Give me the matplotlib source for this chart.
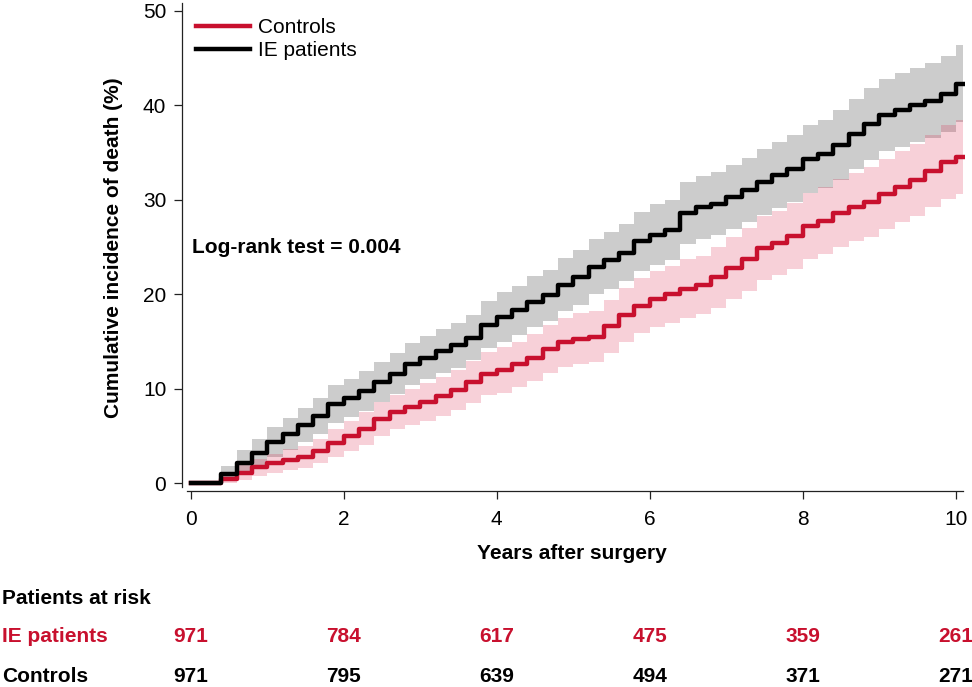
import matplotlib
matplotlib.use("Agg")
import matplotlib.pyplot as plt
import matplotlib.transforms as mtransforms
import numpy as np

plt.rcParams['font.family'] = ['Liberation Sans', 'DejaVu Sans']

# ---- data ----
times = [0.0, 0.2, 0.4, 0.6, 0.8, 1.0, 1.2, 1.4, 1.6, 1.8, 2.0, 2.2, 2.4, 2.6, 2.8,
         3.0, 3.2, 3.4, 3.6, 3.8, 4.0, 4.2, 4.4, 4.6, 4.8, 5.0, 5.2, 5.4, 5.6, 5.8,
         6.0, 6.2, 6.4, 6.6, 6.8, 7.0, 7.2, 7.4, 7.6, 7.8, 8.0, 8.2, 8.4, 8.6, 8.8,
         9.0, 9.2, 9.4, 9.6, 9.8, 10.0, 10.1]

ie_patients = [0, 0, 1.0, 2.2, 3.2, 4.4, 5.2, 6.2, 7.1, 8.4, 9.0, 9.8, 10.7, 11.6, 12.6,
               13.3, 14.0, 14.6, 15.4, 16.8, 17.6, 18.3, 19.2, 19.9, 21.0, 21.8, 22.9, 23.6, 24.4, 25.6,
               26.3, 26.8, 28.6, 29.2, 29.6, 30.3, 31.0, 31.9, 32.6, 33.3, 34.3, 34.8, 35.8, 37.0, 38.0,
               39.0, 39.5, 40.0, 40.5, 41.2, 42.3, 42.3]
ie_halfwidth = [0, 0, 0.8, 1.3, 1.5, 1.6, 1.7, 1.8, 1.9, 2.0, 2.0, 2.1, 2.1, 2.2, 2.2,
                2.3, 2.3, 2.4, 2.4, 2.5, 2.6, 2.6, 2.7, 2.7, 2.8, 2.9, 2.9, 3.0, 3.0, 3.1,
                3.2, 3.2, 3.3, 3.3, 3.3, 3.4, 3.4, 3.5, 3.5, 3.5, 3.6, 3.6, 3.7, 3.7, 3.8,
                3.8, 3.9, 3.9, 4.0, 4.0, 4.1, 4.1]

controls = [0, 0, 0.5, 1.1, 1.7, 2.1, 2.5, 2.8, 3.4, 4.3, 5.0, 5.8, 6.8, 7.5, 8.1,
            8.6, 9.2, 9.9, 10.7, 11.6, 12.0, 12.6, 13.3, 14.2, 14.9, 15.3, 15.5, 16.6, 17.8, 18.8,
            19.5, 20.0, 20.6, 21.0, 21.8, 22.8, 23.7, 24.9, 25.4, 26.2, 27.2, 27.8, 28.6, 29.2, 29.8,
            30.6, 31.4, 32.1, 33.0, 34.0, 34.5, 34.5]
ctrl_halfwidth = [0, 0, 0.5, 0.8, 0.9, 1.0, 1.1, 1.2, 1.3, 1.5, 1.6, 1.7, 1.8, 1.8, 1.9,
                  2.0, 2.1, 2.1, 2.2, 2.3, 2.4, 2.4, 2.5, 2.5, 2.6, 2.7, 2.7, 2.8, 2.9, 2.9,
                  3.0, 3.0, 3.1, 3.1, 3.2, 3.3, 3.3, 3.4, 3.4, 3.5, 3.5, 3.5, 3.6, 3.6, 3.7,
                  3.7, 3.8, 3.8, 3.8, 3.9, 3.9, 3.9]

risk_years = [0, 2, 4, 6, 8, 10]
risk_ie = [971, 784, 617, 475, 359, 261]
risk_ctrl = [971, 795, 639, 494, 371, 271]

x_ticks = [0, 2, 4, 6, 8, 10]
y_ticks = [0, 10, 20, 30, 40, 50]

RED = '#C8102E'

fig = plt.figure(figsize=(9.72, 6.87), dpi=100)
ax = fig.add_axes([0.1844, 0.2827, 0.8084, 0.7127])

t = np.array(times)
ie = np.array(ie_patients)
iew = np.array(ie_halfwidth)
ct = np.array(controls)
ctw = np.array(ctrl_halfwidth)

ax.fill_between(t, ie - iew, ie + iew, step='post', color='#CCCCCC', lw=0, zorder=1)
ax.fill_between(t, ct - ctw, ct + ctw, step='post', color='#D8163F', alpha=0.2, lw=0, zorder=2)
ax.step(t, ct, where='post', color=RED, lw=3.2, label='Controls', zorder=3)
ax.step(t, ie, where='post', color='black', lw=3.2, label='IE patients', zorder=4)

ax.set_xlim(-0.15, 10.12)
ax.set_ylim(-1.0, 50.8)
for s in ['top', 'right']:
    ax.spines[s].set_visible(False)
ax.spines['left'].set_position(('data', -0.12))
ax.spines['bottom'].set_position(('data', -0.78))
ax.spines['left'].set_bounds(-0.36, 50.8)
ax.spines['bottom'].set_bounds(-0.05, 10.09)
for s in ['left', 'bottom']:
    ax.spines[s].set_linewidth(0.9)
    ax.spines[s].set_color('#222222')

ax.set_xticks(x_ticks)
ax.set_yticks(y_ticks)
ax.tick_params(axis='both', labelsize=15, length=6, width=0.9, color='#222222')
ax.tick_params(axis='x', pad=8)
ax.tick_params(axis='y', pad=5)

ax.set_xlabel('Years after surgery', fontsize=15, fontweight='bold', labelpad=11)
ax.set_ylabel('Cumulative incidence of death (%)', fontsize=15, fontweight='bold', labelpad=14)

leg = ax.legend(loc='upper left', bbox_to_anchor=(0.005, 0.995), frameon=False, fontsize=15,
                handlelength=2.6, handletextpad=0.4, labelspacing=0.2, borderaxespad=0.2)

ax.text(0.02, 25.0, 'Log-rank test = 0.004', fontsize=15, fontweight='bold', va='center', ha='left')

# risk table
trans = mtransforms.blended_transform_factory(ax.transData, fig.transFigure)
fig.text(0.002, 1 - 598 / 687, 'Patients at risk', fontsize=15, fontweight='bold', va='center', ha='left')
fig.text(0.002, 1 - 636 / 687, 'IE patients', fontsize=15, fontweight='bold', va='center', ha='left', color=RED)
fig.text(0.002, 1 - 676 / 687, 'Controls', fontsize=15, fontweight='bold', va='center', ha='left')
for yr, a, b in zip(risk_years, risk_ie, risk_ctrl):
    ax.text(yr, 1 - 636 / 687, str(a), transform=trans, fontsize=15, fontweight='bold',
            va='center', ha='center', color=RED, clip_on=False)
    ax.text(yr, 1 - 676 / 687, str(b), transform=trans, fontsize=15, fontweight='bold',
            va='center', ha='center', color='black', clip_on=False)

fig.savefig('out.png', dpi=100)
